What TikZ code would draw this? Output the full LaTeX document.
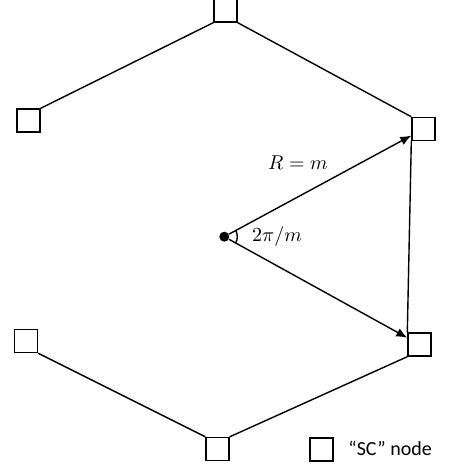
\documentclass[tikz,border=0pt]{standalone}
\usepackage{fontspec}
\newfontfamily\legendfont{Carlito}
\usetikzlibrary{arrows.meta}

\begin{document}
\begin{tikzpicture}[>={Latex[length=5.5pt,width=4.5pt]},x=0.5pt,y=-0.5pt]
  \tikzset{sc/.style   = {draw,line width=0.7pt,minimum size=11.5pt,inner sep=0pt},
           EdgeStyle/.style = {line width=0.7pt}}
  \useasboundingbox (0,0) rectangle (474,474);
  % square nodes of the ring
  \node[sc] (N)  at (225.5,10.5)  {};
  \node[sc] (NW) at (28.5,120.5)  {};
  \node[sc] (NE) at (423.5,129)   {};
  \node[sc] (SE) at (419.5,344.5) {};
  \node[sc] (SW) at (26,341)      {};
  \node[sc] (S)  at (217.5,449)   {};
  \node[circle,fill,minimum size=5pt,inner sep=0pt] (C) at (224.3,236.7) {};
  \draw[EdgeStyle] (NW.north east) -- (N.south west);
  \draw[EdgeStyle] (N.south east) -- (NE.north west);
  \draw[EdgeStyle] (NE.south west) -- (SE.north west);
  \draw[EdgeStyle] (SE.south west) -- (S.north east);
  \draw[EdgeStyle] (S.north west) -- (SW.south east);
  \draw[EdgeStyle,->] (C) -- (NE);
  \draw[EdgeStyle,->] (C) -- (SE);
  \draw[EdgeStyle] ([shift={(-28:13)}]C.center) arc[start angle=-28,end angle=28,radius=13];
  \node (R) at (298,163) {$R = m$};
  \node (A) at (277,237) {$2\pi/m$};
  % legend
  \node[sc] (L) at (321.5,449.5) {};
  \node[anchor=west,inner sep=0pt,font=\legendfont] (Ltext) at (348,448) {“SC” node};
\end{tikzpicture}
\end{document}
